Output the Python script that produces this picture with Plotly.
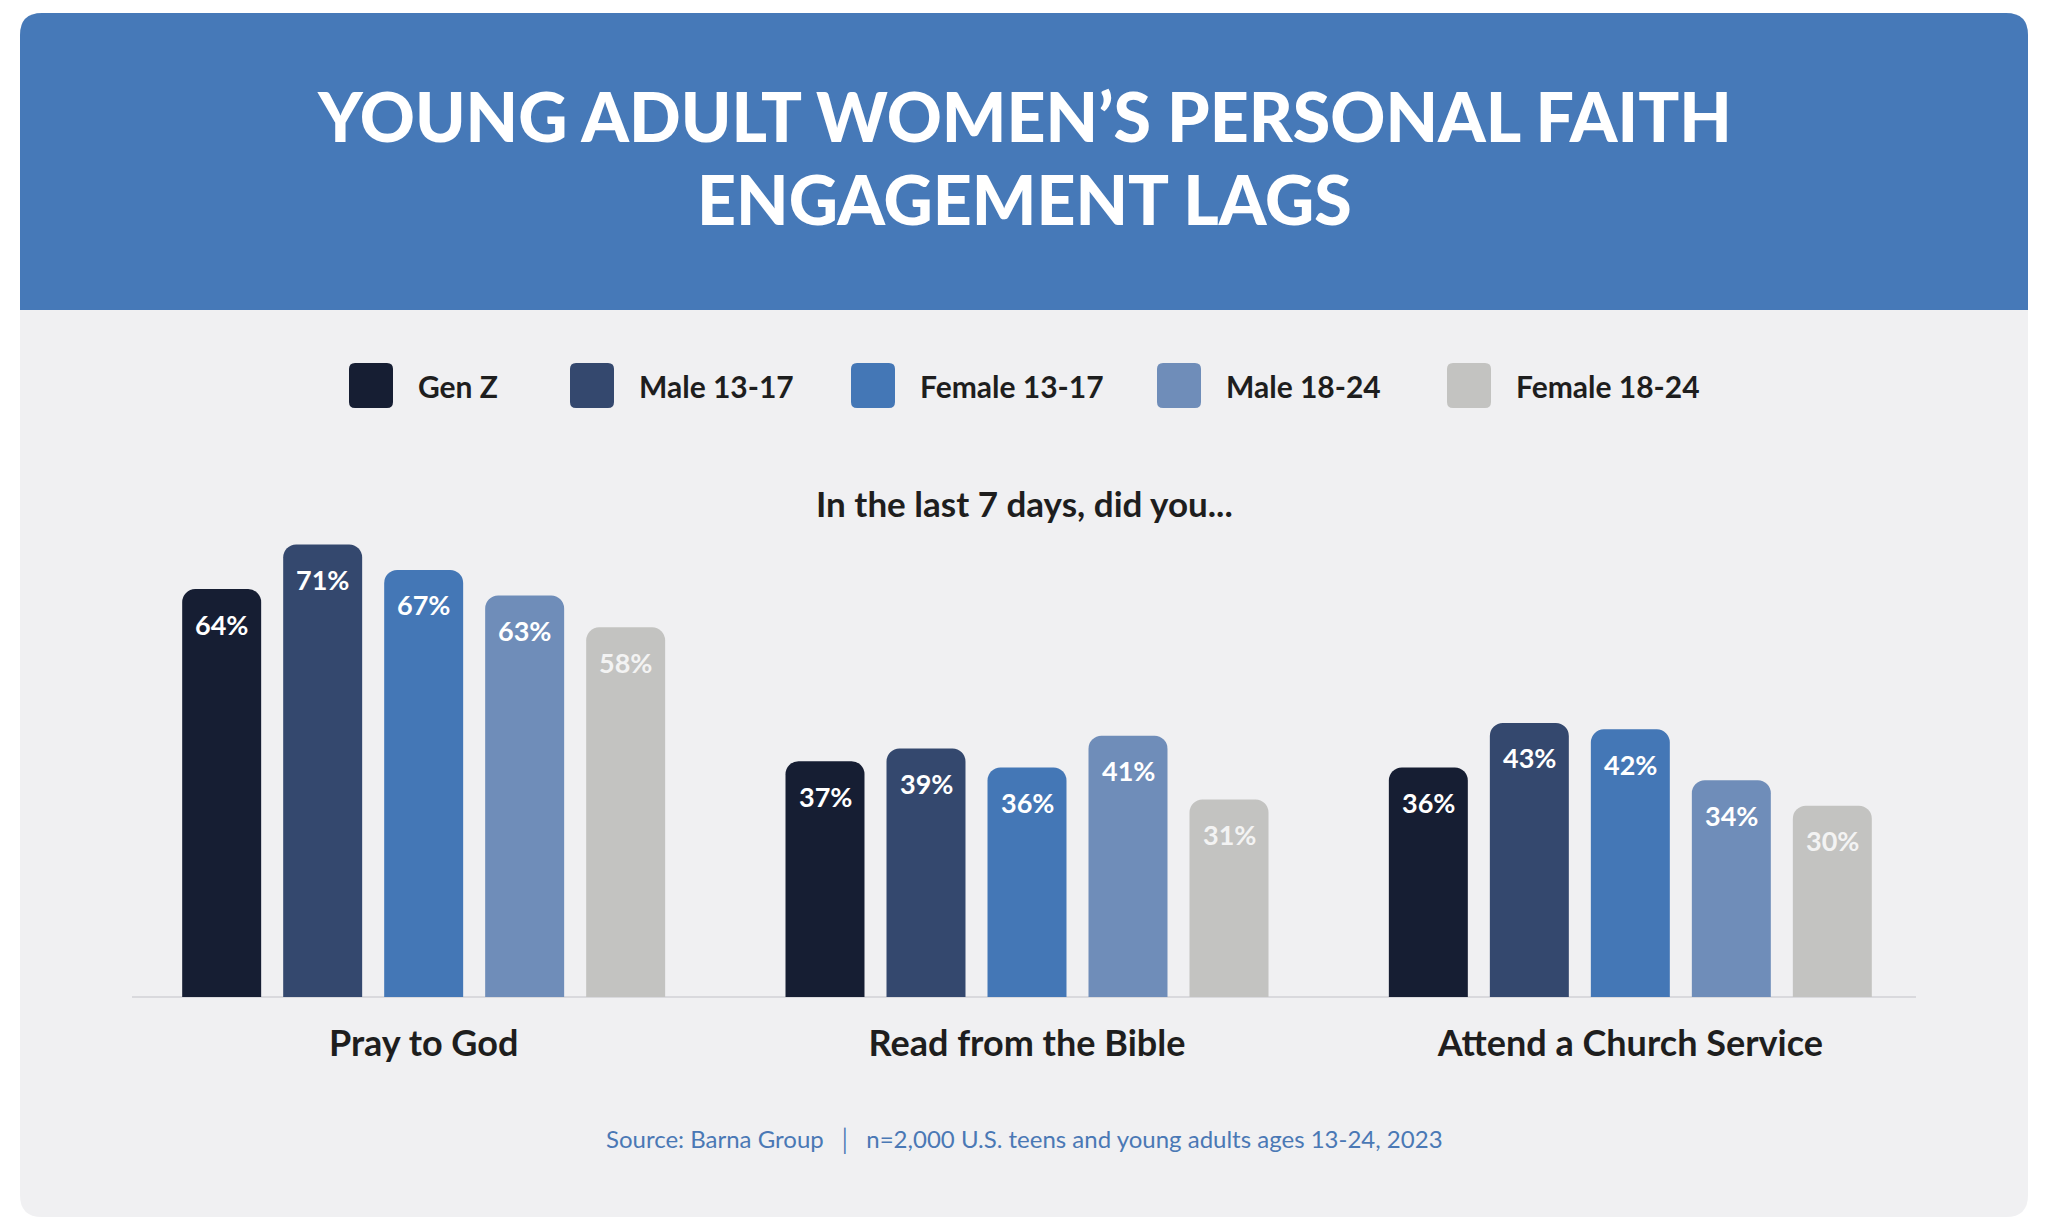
import plotly.graph_objects as go

# ---------------- data ----------------
categories = ["Pray to God", "Read from the Bible", "Attend a Church Service"]
series_names = ["Gen Z", "Male 13-17", "Female 13-17", "Male 18-24", "Female 18-24"]
gen_z = [64, 37, 36]
male_13_17 = [71, 39, 43]
female_13_17 = [67, 36, 42]
male_18_24 = [63, 41, 34]
female_18_24 = [58, 31, 30]
series_values = [gen_z, male_13_17, female_13_17, male_18_24, female_18_24]

title_lines = ["YOUNG ADULT WOMEN’S PERSONAL FAITH", "ENGAGEMENT LAGS"]
subtitle_text = "In the last 7 days, did you..."
source_text = "Source: Barna Group  │  n=2,000 U.S. teens and young adults ages 13-24, 2023"

# ---------------- styles ----------------
colors = ["#161e33", "#34486e", "#4477b6", "#6f8db9", "#c3c3c1"]
label_colors = ["#ffffff", "#ffffff", "#ffffff", "#ffffff", "#f3f3f3"]
W, H = 2048, 1230
FONT = "Lato"
BARGAP = 0.163
BARGROUPGAP = 0.218


def px(x):
    return x / W


def py(y):
    return 1 - y / H


def rounded_path(x0, y0, x1, y1, r, top=True, bottom=True):
    rt = r if top else 0
    rb = r if bottom else 0
    pts = []
    pts.append(f"M {px(x0 + rt)} {py(y0)}")
    pts.append(f"L {px(x1 - rt)} {py(y0)}")
    if rt:
        pts.append(f"Q {px(x1)} {py(y0)} {px(x1)} {py(y0 + rt)}")
    pts.append(f"L {px(x1)} {py(y1 - rb)}")
    if rb:
        pts.append(f"Q {px(x1)} {py(y1)} {px(x1 - rb)} {py(y1)}")
    pts.append(f"L {px(x0 + rb)} {py(y1)}")
    if rb:
        pts.append(f"Q {px(x0)} {py(y1)} {px(x0)} {py(y1 - rb)}")
    pts.append(f"L {px(x0)} {py(y0 + rt)}")
    if rt:
        pts.append(f"Q {px(x0)} {py(y0)} {px(x0 + rt)} {py(y0)}")
    pts.append("Z")
    return " ".join(pts)


fig = go.Figure()
for name, vals, col in zip(series_names, series_values, colors):
    fig.add_trace(go.Bar(
        name=name, x=categories, y=vals, marker=dict(color=col, line=dict(width=0)),
        hoverinfo="skip", showlegend=False,
    ))

shapes = []
# card background
shapes.append(dict(type="path", path=rounded_path(20, 13, 2028, 1217, 22), xref="paper", yref="paper",
                   fillcolor="#f0f0f2", line=dict(width=0), layer="below"))
# header
shapes.append(dict(type="path", path=rounded_path(20, 13, 2028, 310, 22, bottom=False), xref="paper",
                   yref="paper", fillcolor="#4679b8", line=dict(width=0), layer="below"))
# baseline
shapes.append(dict(type="line", x0=px(132), x1=px(1916), y0=py(997), y1=py(997), xref="paper", yref="paper",
                   line=dict(color="#d9d9dd", width=2), layer="below"))

annotations = []
for line, ty in zip(title_lines, [115, 199]):
    annotations.append(dict(text=line, x=0.5, y=py(ty), xref="paper", yref="paper", showarrow=False,
                            xanchor="center", yanchor="middle",
                            font=dict(family=FONT, size=68, color="white", weight=900)))
annotations.append(dict(text=subtitle_text, x=0.5, y=py(503), xref="paper", yref="paper", showarrow=False,
                        xanchor="center", yanchor="middle",
                        font=dict(family=FONT, size=35, color="#1e1e1e", weight=700)))
annotations.append(dict(text=source_text, x=0.5, y=py(1139), xref="paper", yref="paper", showarrow=False,
                        xanchor="center", yanchor="middle",
                        font=dict(family=FONT, size=24, color="#4a78b5")))

# manual legend
legend_x = [349, 570, 851, 1157, 1447]
for name, col, lx in zip(series_names, colors, legend_x):
    shapes.append(dict(type="path", path=rounded_path(lx, 363, lx + 44, 408, 6), xref="paper", yref="paper",
                       fillcolor=col, line=dict(width=0)))
    annotations.append(dict(text=name, x=px(lx + 67), y=py(386), xref="paper", yref="paper", showarrow=False,
                            xanchor="left", yanchor="middle",
                            font=dict(family=FONT, size=30, color="#1e1e1e", weight=700)))

# value labels inside bars
slot = (1 - BARGAP) / len(series_names)
for j, (vals, lc) in enumerate(zip(series_values, label_colors)):
    for i, v in enumerate(vals):
        annotations.append(dict(text=f"{v}%", x=i + (j - (len(series_names) - 1) / 2) * slot, y=v,
                                xref="x", yref="y", showarrow=False, yshift=-35,
                                xanchor="center", yanchor="middle",
                                font=dict(family=FONT, size=27, color=lc, weight=700)))

fig.update_layout(
    width=W, height=H,
    margin=dict(l=0, r=0, t=0, b=0),
    paper_bgcolor="white", plot_bgcolor="rgba(0,0,0,0)",
    barmode="group", bargap=BARGAP, bargroupgap=BARGROUPGAP,
    barcornerradius=13,
    shapes=shapes, annotations=annotations,
    xaxis=dict(domain=[px(122), px(1932)], showgrid=False, showline=False, zeroline=False,
               ticks="", ticklabelstandoff=22,
               tickfont=dict(family=FONT, size=36, color="#1e1e1e", weight=700)),
    yaxis=dict(domain=[py(997), py(519)], range=[0, 75], visible=False, showgrid=False, zeroline=False),
    font=dict(family=FONT),
)

fig.write_html("out.html")
